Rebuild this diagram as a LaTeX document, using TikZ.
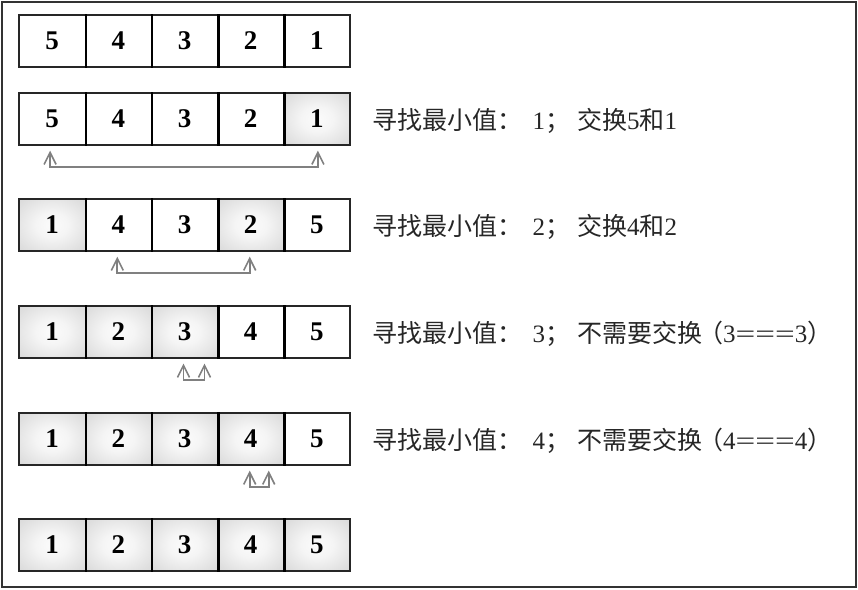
\documentclass[tikz,border=0pt]{standalone}
\usepackage{fontspec}
\setmainfont{Liberation Serif}
\newfontfamily\cjk{Noto Sans CJK SC}
\usetikzlibrary{arrows.meta}
\newcommand\mypre{\makebox[160.5pt][l]{\cjk 寻找最小值：}}
\newcommand\mysemi{\makebox[32pt][l]{\cjk ；}}
\pgfdeclareradialshading{cellshade}{\pgfpoint{0bp}{0bp}}{color(0bp)=(gray!3); color(12bp)=(gray!8); color(30bp)=(gray!25); color(50bp)=(gray!40)}
\begin{document}
\begin{tikzpicture}[x=1pt,y=-1pt,
  cellbase/.style={minimum width=66.2pt,minimum height=52pt,inner sep=0pt,
    draw=black!85,line width=1.3pt,font=\fontsize{27}{30}\selectfont\bfseries},
  whcell/.style={cellbase,fill=white},
  grcell/.style={cellbase,shading=cellshade},
  sepline/.style={line width=2.6pt,black},
  lbl/.style={inner sep=0pt,text=black!85,font=\fontsize{25}{30}\selectfont},
  swp/.style={draw=gray,line width=1.8pt,
    {Straight Barb[length=12pt,width=12pt,line width=1.6pt]}-{Straight Barb[length=12pt,width=12pt,line width=1.6pt]}},
  framebox/.style={draw=black!80,line width=2pt}]
\useasboundingbox (0,0) rectangle (858,589);
\draw[framebox] (2,2) rectangle (855.5,587);
% rows of cells
\foreach \r/\y/\vals in {1/41/{5,4,3,2,1},2/119/{5,4,3,2,1},3/225/{1,4,3,2,5},
                           4/332/{1,2,3,4,5},5/439/{1,2,3,4,5},6/545/{1,2,3,4,5}}{
  \foreach \v [count=\c] in \vals {
    \pgfmathsetmacro\xx{52.1+66.2*(\c-1)}
    \def\myshade{0}
    \ifnum\r=2 \ifnum\c=5 \def\myshade{1}\fi\fi
    \ifnum\r=3 \ifnum\c=1 \def\myshade{1}\fi \ifnum\c=4 \def\myshade{1}\fi\fi
    \ifnum\r=4 \ifnum\c<4 \def\myshade{1}\fi\fi
    \ifnum\r=5 \ifnum\c<5 \def\myshade{1}\fi\fi
    \ifnum\r=6 \def\myshade{1}\fi
    \ifnum\myshade=1
      \node[grcell] (r\r c\c) at (\xx,\y) {\v};
    \else
      \node[whcell] (r\r c\c) at (\xx,\y) {\v};
    \fi
  }
  \foreach \c in {1,2,3,4}{
    \draw[sepline] (r\r c\c.north east) -- (r\r c\c.south east);
  }
}
% labels
\node[lbl,anchor=base west] (t2) at (372,129.5) {\mypre 1\mysemi{\cjk 交换}5{\cjk 和}1};
\node[lbl,anchor=base west] (t3) at (372,235.5) {\mypre 2\mysemi{\cjk 交换}4{\cjk 和}2};
\node[lbl,anchor=base west] (t4) at (372,342.5) {\mypre 3\mysemi{\cjk 不需要交换}\makebox[21pt][r]{\cjk （}3\scalebox{1.4}[1]{===}3{\cjk ）}};
\node[lbl,anchor=base west] (t5) at (372,449.5) {\mypre 4\mysemi{\cjk 不需要交换}\makebox[21pt][r]{\cjk （}4\scalebox{1.4}[1]{===}4{\cjk ）}};
% swap arrows
\draw[swp] ([xshift=-2pt,yshift=-5pt]r2c1.south) -- ([xshift=-2pt,yshift=-21pt]r2c1.south) -| ([xshift=1pt,yshift=-5pt]r2c5.south);
\draw[swp] ([xshift=-1pt,yshift=-5pt]r3c2.south) -- ([xshift=-1pt,yshift=-21pt]r3c2.south) -| ([xshift=-1pt,yshift=-5pt]r3c4.south);
\draw[swp] ([xshift=-1pt,yshift=-5pt]r4c3.south) -- ([xshift=-1pt,yshift=-21pt]r4c3.south) -| ([xshift=20pt,yshift=-5pt]r4c3.south);
\draw[swp] ([xshift=-1pt,yshift=-5pt]r5c4.south) -- ([xshift=-1pt,yshift=-21pt]r5c4.south) -| ([xshift=18pt,yshift=-5pt]r5c4.south);
\end{tikzpicture}
\end{document}
